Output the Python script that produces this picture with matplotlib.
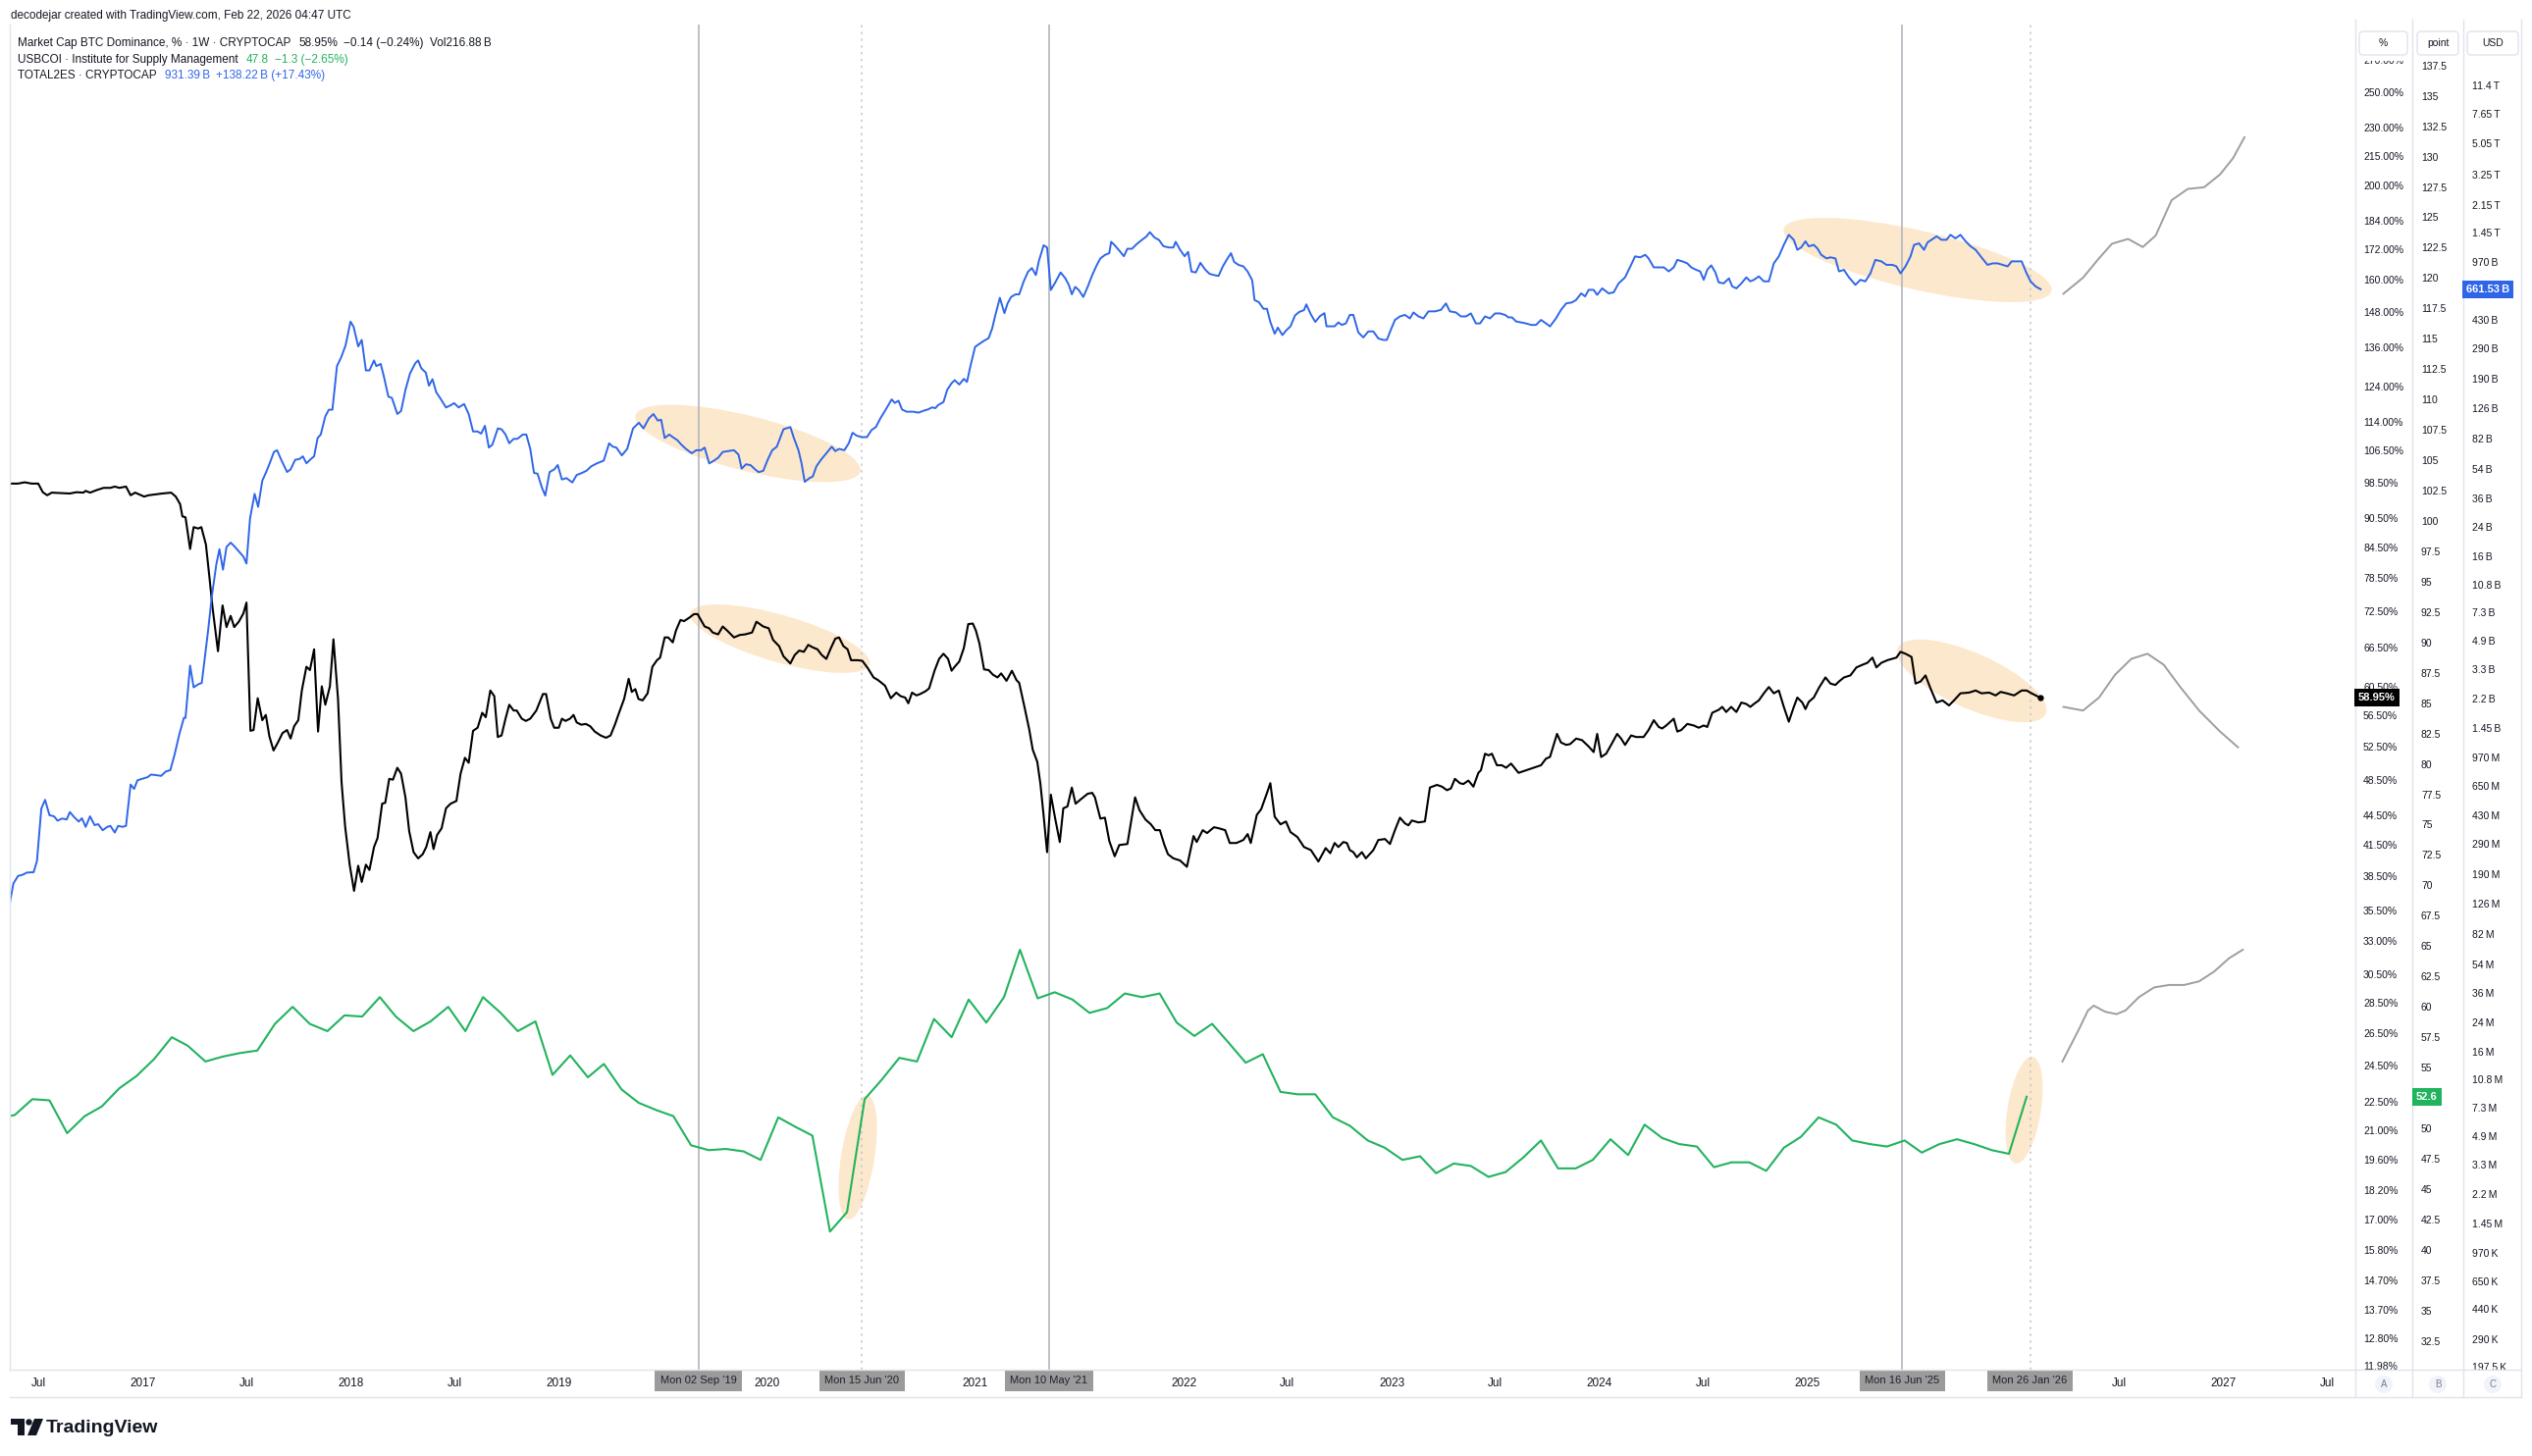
import numpy as np
import pandas as pd
import matplotlib
matplotlib.use("Agg")
import matplotlib.pyplot as plt
from matplotlib import transforms
from matplotlib.patches import Ellipse, FancyBboxPatch, Circle, Polygon, Rectangle
from matplotlib.ticker import FixedLocator, FixedFormatter, NullLocator

plt.rcParams['font.family'] = ['Liberation Sans', 'DejaVu Sans']

# -------------------------------
# data
# -------------------------------
# Market Cap BTC Dominance, weekly, % (decimal year)
btc_dom_t = [
    2016.359, 2016.398, 2016.430, 2016.463, 2016.495, 2016.517, 2016.538, 2016.560, 2016.603, 2016.647,
    2016.679, 2016.712, 2016.723, 2016.744, 2016.777, 2016.809, 2016.842, 2016.863, 2016.885, 2016.917,
    2016.939, 2016.961, 2017.004, 2017.026, 2017.058, 2017.091, 2017.134, 2017.156, 2017.177, 2017.188,
    2017.203, 2017.225, 2017.242, 2017.264, 2017.279, 2017.301, 2017.318, 2017.333, 2017.359, 2017.381,
    2017.400, 2017.420, 2017.437, 2017.459, 2017.481, 2017.496, 2017.515, 2017.530, 2017.550, 2017.572,
    2017.589, 2017.606, 2017.626, 2017.647, 2017.669, 2017.691, 2017.708, 2017.725, 2017.745, 2017.762,
    2017.784, 2017.801, 2017.821, 2017.840, 2017.858, 2017.875, 2017.897, 2017.914, 2017.936, 2017.953,
    2017.970, 2017.992, 2018.013, 2018.033, 2018.050, 2018.070, 2018.087, 2018.109, 2018.126, 2018.148,
    2018.163, 2018.182, 2018.200, 2018.221, 2018.239, 2018.260, 2018.278, 2018.299, 2018.321, 2018.343,
    2018.360, 2018.380, 2018.395, 2018.412, 2018.434, 2018.455, 2018.477, 2018.505, 2018.525, 2018.546,
    2018.564, 2018.585, 2018.607, 2018.629, 2018.646, 2018.668, 2018.687, 2018.704, 2018.722, 2018.741,
    2018.759, 2018.780, 2018.795, 2018.819, 2018.839, 2018.860, 2018.889, 2018.921, 2018.936, 2018.958,
    2018.975, 2018.997, 2019.012, 2019.029, 2019.051, 2019.068, 2019.083, 2019.105, 2019.127, 2019.148,
    2019.170, 2019.198, 2019.224, 2019.246, 2019.268, 2019.283, 2019.311, 2019.333, 2019.348, 2019.365,
    2019.380, 2019.400, 2019.424, 2019.447, 2019.469, 2019.484, 2019.506, 2019.523, 2019.545, 2019.560,
    2019.582, 2019.599, 2019.625, 2019.647, 2019.664,
    2019.672, 2019.698, 2019.720, 2019.737, 2019.763, 2019.785, 2019.807, 2019.839, 2019.867, 2019.893,
    2019.926, 2019.947, 2019.980, 2020.006, 2020.027, 2020.056, 2020.077, 2020.110, 2020.131, 2020.153,
    2020.175, 2020.196, 2020.218, 2020.240, 2020.261, 2020.283, 2020.305, 2020.326, 2020.344, 2020.365,
    2020.385, 2020.402, 2020.435, 2020.456, 2020.482, 2020.510, 2020.532, 2020.565, 2020.593, 2020.619,
    2020.640, 2020.662, 2020.677, 2020.695, 2020.716, 2020.734, 2020.760, 2020.777, 2020.803, 2020.825,
    2020.846, 2020.868, 2020.885, 2020.900, 2020.922, 2020.944, 2020.965, 2020.987, 2021.002, 2021.019,
    2021.041, 2021.063, 2021.084, 2021.106, 2021.123, 2021.149, 2021.175, 2021.197, 2021.210, 2021.236,
    2021.258, 2021.275, 2021.297, 2021.312, 2021.327, 2021.344, 2021.362, 2021.383, 2021.405, 2021.422,
    2021.442, 2021.463, 2021.481, 2021.507, 2021.539, 2021.561, 2021.574, 2021.600, 2021.622, 2021.643,
    2021.669, 2021.691, 2021.730, 2021.767, 2021.788, 2021.817, 2021.843, 2021.864, 2021.886, 2021.908,
    2021.925, 2021.951, 2021.983, 2022.016, 2022.048, 2022.063, 2022.092, 2022.113, 2022.146, 2022.168,
    2022.200, 2022.222, 2022.254, 2022.287, 2022.308, 2022.323, 2022.352, 2022.373, 2022.401, 2022.417,
    2022.438, 2022.466, 2022.492, 2022.514, 2022.547, 2022.579, 2022.612, 2022.648, 2022.683, 2022.705,
    2022.726,
    2022.744, 2022.768, 2022.785, 2022.799, 2022.816, 2022.833, 2022.857, 2022.876, 2022.912, 2022.936,
    2022.968, 2022.992, 2023.016, 2023.040, 2023.064, 2023.081, 2023.097, 2023.129, 2023.160, 2023.184,
    2023.218, 2023.242, 2023.266, 2023.285, 2023.304, 2023.328, 2023.345, 2023.369, 2023.393, 2023.417,
    2023.429, 2023.449, 2023.466, 2023.482, 2023.506, 2023.530, 2023.550, 2023.574, 2023.610, 2023.646,
    2023.682, 2023.718, 2023.742, 2023.761, 2023.795, 2023.814, 2023.839, 2023.858, 2023.887, 2023.915,
    2023.947, 2023.971, 2023.988, 2024.007, 2024.031, 2024.055, 2024.084, 2024.103, 2024.122, 2024.151,
    2024.175, 2024.211, 2024.235, 2024.260, 2024.284, 2024.300, 2024.320, 2024.356, 2024.373, 2024.392,
    2024.421, 2024.452, 2024.476, 2024.500, 2024.517, 2024.541, 2024.572, 2024.589, 2024.608, 2024.632,
    2024.657, 2024.681, 2024.705, 2024.724, 2024.741, 2024.765, 2024.789, 2024.813, 2024.837, 2024.861,
    2024.885, 2024.909, 2024.933, 2024.950, 2024.974, 2024.989, 2025.005, 2025.029, 2025.054, 2025.085,
    2025.109, 2025.133, 2025.150, 2025.174, 2025.205, 2025.234, 2025.263, 2025.287, 2025.311, 2025.330,
    2025.354, 2025.383, 2025.426, 2025.446, 2025.470, 2025.499, 2025.518, 2025.542, 2025.566, 2025.590,
    2025.619, 2025.648, 2025.679, 2025.703, 2025.734, 2025.775, 2025.807, 2025.835, 2025.872, 2025.903,
    2025.927, 2025.956, 2025.992, 2026.028, 2026.052, 2026.076, 2026.119,
]
btc_dom = [
    98.3, 98.3, 98.6, 98.3, 98.3, 96.3, 95.6, 96.2, 96.1, 96.0,
    96.3, 96.2, 96.6, 96.2, 96.8, 97.3, 97.3, 97.6, 97.3, 97.6,
    95.6, 96.2, 95.3, 95.6, 95.8, 96.0, 96.2, 95.3, 93.6, 90.9,
    90.7, 84.1, 88.6, 88.3, 88.6, 85.0, 78.6, 73.1, 65.9, 73.5,
    69.8, 71.7, 69.8, 70.7, 72.1, 74.0, 54.5, 54.6, 58.9, 55.9,
    56.6, 53.8, 52.0, 53.0, 54.2, 54.6, 53.5, 55.1, 55.9, 60.0,
    63.5, 63.0, 66.2, 54.4, 60.6, 58.0, 60.6, 67.8, 58.8, 48.2,
    43.4, 39.6, 37.2, 39.5, 38.0, 39.6, 39.1, 41.3, 42.2, 45.8,
    45.9, 48.6, 48.5, 49.9, 49.2, 46.5, 42.9, 40.8, 40.2, 40.6,
    41.3, 42.8, 41.1, 42.5, 43.2, 45.3, 45.8, 46.1, 49.2, 51.1,
    50.5, 54.5, 54.9, 56.9, 56.3, 60.0, 59.2, 53.7, 53.9, 56.1,
    58.0, 57.2, 57.2, 56.1, 55.8, 56.1, 57.2, 59.5, 59.5, 56.1,
    54.9, 54.9, 56.1, 55.8, 56.1, 56.6, 55.6, 55.3, 55.4, 55.1,
    54.4, 53.9, 53.6, 53.9, 55.4, 56.6, 58.8, 61.7, 59.8, 60.2,
    58.8, 58.6, 59.6, 63.5, 64.5, 64.9, 68.1, 68.1, 67.3, 69.2,
    71.0, 70.8, 71.4, 72.0, 72.0,
    71.5, 69.9, 69.6, 68.9, 68.6, 69.9, 69.2, 68.1, 68.5, 68.6,
    68.9, 70.7, 69.9, 69.6, 67.7, 66.7, 65.1, 64.0, 65.3, 66.0,
    65.8, 66.9, 66.5, 66.2, 65.3, 64.7, 66.4, 67.9, 68.1, 66.7,
    66.2, 64.5, 64.5, 64.4, 63.3, 61.9, 61.5, 60.7, 58.9, 59.7,
    59.2, 59.0, 58.2, 59.7, 59.3, 59.5, 59.9, 60.3, 62.9, 64.7,
    65.5, 64.7, 62.9, 63.5, 64.3, 66.4, 70.3, 70.4, 69.2, 67.1,
    63.1, 63.0, 62.3, 61.9, 62.5, 61.4, 62.9, 61.5, 61.1, 57.6,
    54.7, 52.1, 50.6, 48.0, 44.6, 40.8, 46.8, 44.2, 41.8, 45.3,
    45.5, 47.6, 45.8, 46.3, 46.9, 47.0, 46.5, 44.2, 44.3, 41.9,
    40.4, 41.5, 41.6, 46.5, 45.1, 44.1, 43.6, 43.0, 43.0, 41.5,
    40.6, 40.2, 40.0, 39.4, 42.4, 41.8, 43.0, 42.7, 43.3, 43.2,
    43.0, 41.7, 41.7, 42.0, 42.6, 41.7, 44.6, 45.2, 47.0, 48.1,
    44.4, 43.6, 43.9, 42.8, 42.3, 41.3, 41.0, 39.9, 41.2, 40.7,
    41.7,
    41.3, 41.8, 41.7, 41.0, 40.8, 40.3, 40.8, 40.2, 41.0, 42.0,
    42.1, 41.6, 43.0, 44.3, 43.7, 43.5, 44.0, 43.8, 43.9, 47.6,
    47.9, 47.7, 47.3, 47.5, 48.6, 48.1, 48.0, 48.4, 47.7, 49.3,
    49.6, 51.6, 51.4, 51.6, 50.2, 50.2, 49.9, 50.4, 49.3, 49.6,
    49.9, 50.2, 51.0, 51.2, 54.1, 53.0, 52.7, 52.8, 53.5, 53.3,
    52.5, 51.8, 54.1, 51.2, 51.6, 52.7, 54.1, 53.5, 52.7, 53.9,
    53.7, 53.7, 54.6, 55.9, 55.0, 54.8, 55.2, 56.1, 54.4, 54.6,
    55.4, 55.2, 54.9, 55.2, 55.0, 56.9, 57.3, 57.7, 57.0, 57.7,
    57.0, 58.3, 58.1, 57.7, 58.1, 58.6, 59.6, 60.5, 59.6, 60.0,
    57.7, 55.7, 57.7, 59.0, 58.3, 57.4, 58.4, 59.0, 60.4, 61.9,
    61.0, 60.8, 61.3, 61.9, 62.2, 63.4, 63.8, 64.1, 64.9, 63.4,
    64.1, 64.5, 64.9, 65.8, 65.5, 65.0, 61.0, 61.3, 62.2, 60.3,
    58.3, 58.6, 57.9, 58.6, 59.6, 59.7, 60.0, 59.6, 59.7, 59.3,
    59.8, 59.6, 59.3, 60.0, 60.0, 59.6, 58.95,
]

# TOTAL2ES market cap, weekly, billions of USD
total2es_t = [
    2016.359, 2016.376, 2016.398, 2016.419, 2016.441, 2016.473, 2016.489, 2016.510, 2016.528, 2016.549,
    2016.571, 2016.588, 2016.610, 2016.632, 2016.647, 2016.668, 2016.690, 2016.705, 2016.723, 2016.744,
    2016.766, 2016.783, 2016.805, 2016.827, 2016.842, 2016.863, 2016.879, 2016.900, 2016.917, 2016.939,
    2016.956, 2016.972, 2016.993, 2017.021, 2017.037, 2017.058, 2017.086, 2017.108, 2017.130, 2017.151,
    2017.173, 2017.195, 2017.203, 2017.225, 2017.242, 2017.264, 2017.281, 2017.297, 2017.312, 2017.329,
    2017.351, 2017.366, 2017.383, 2017.400, 2017.420, 2017.437, 2017.459, 2017.481, 2017.496, 2017.513,
    2017.535, 2017.552, 2017.572, 2017.589, 2017.606, 2017.628, 2017.643, 2017.665, 2017.691, 2017.708,
    2017.730, 2017.751, 2017.767, 2017.784, 2017.806, 2017.821, 2017.838, 2017.853, 2017.875, 2017.892,
    2017.909, 2017.931, 2017.951, 2017.972, 2017.996, 2018.011, 2018.033, 2018.050, 2018.070, 2018.087,
    2018.109, 2018.120, 2018.141, 2018.156, 2018.178, 2018.195, 2018.221, 2018.239, 2018.260, 2018.282,
    2018.308, 2018.321, 2018.336, 2018.358, 2018.373, 2018.390, 2018.408, 2018.429, 2018.455, 2018.477,
    2018.494, 2018.516, 2018.542, 2018.564, 2018.585, 2018.607, 2018.624, 2018.642, 2018.661, 2018.678,
    2018.704, 2018.722, 2018.741, 2018.759, 2018.780, 2018.798, 2018.824, 2018.841, 2018.860, 2018.878,
    2018.895, 2018.917, 2018.932, 2018.953, 2018.975, 2018.992, 2019.012, 2019.034, 2019.062, 2019.083,
    2019.109, 2019.131, 2019.153, 2019.181, 2019.213, 2019.239, 2019.257, 2019.274, 2019.300, 2019.326,
    2019.354, 2019.382, 2019.404, 2019.430, 2019.452, 2019.473, 2019.489, 2019.506, 2019.528, 2019.545,
    2019.567, 2019.586, 2019.608, 2019.636, 2019.658,
    2019.681, 2019.698, 2019.720, 2019.742, 2019.763, 2019.785, 2019.811, 2019.839, 2019.861, 2019.876,
    2019.897, 2019.919, 2019.941, 2019.958, 2019.980, 2020.001, 2020.023, 2020.045, 2020.077, 2020.110,
    2020.127, 2020.149, 2020.164, 2020.179, 2020.201, 2020.218, 2020.235, 2020.257, 2020.283, 2020.309,
    2020.326, 2020.344, 2020.370, 2020.391, 2020.409, 2020.430, 2020.456, 2020.478, 2020.500, 2020.521,
    2020.543, 2020.565, 2020.597, 2020.612, 2020.630, 2020.647, 2020.669, 2020.699, 2020.727, 2020.749,
    2020.770, 2020.792, 2020.807, 2020.820, 2020.846, 2020.864, 2020.885, 2020.900, 2020.922, 2020.944,
    2020.959, 2020.976, 2020.998, 2021.019, 2021.041, 2021.063, 2021.080, 2021.095, 2021.117, 2021.139,
    2021.154, 2021.171, 2021.193, 2021.210, 2021.232, 2021.253, 2021.271, 2021.290, 2021.305, 2021.318,
    2021.327, 2021.344, 2021.362, 2021.383, 2021.409, 2021.431, 2021.448, 2021.463, 2021.479, 2021.496,
    2021.518, 2021.539, 2021.561, 2021.583, 2021.600, 2021.622, 2021.643, 2021.652, 2021.669, 2021.691,
    2021.713, 2021.730, 2021.752, 2021.773, 2021.799, 2021.821, 2021.838, 2021.860, 2021.882, 2021.903,
    2021.929, 2021.951, 2021.962, 2021.983, 2022.005, 2022.022, 2022.038, 2022.059, 2022.081, 2022.103,
    2022.124, 2022.146, 2022.168, 2022.189, 2022.211, 2022.228, 2022.243, 2022.265, 2022.287, 2022.308,
    2022.330, 2022.341, 2022.362, 2022.384, 2022.401, 2022.417, 2022.438, 2022.453, 2022.475, 2022.492,
    2022.514, 2022.536, 2022.557, 2022.579, 2022.590, 2022.612, 2022.633, 2022.655, 2022.677, 2022.687,
    2022.726,
    2022.744, 2022.761, 2022.780, 2022.799, 2022.816, 2022.840, 2022.864, 2022.888, 2022.912, 2022.936,
    2022.960, 2022.977, 2022.996, 2023.016, 2023.040, 2023.064, 2023.088, 2023.105, 2023.129, 2023.153,
    2023.177, 2023.208, 2023.237, 2023.261, 2023.280, 2023.309, 2023.333, 2023.357, 2023.381, 2023.405,
    2023.425, 2023.449, 2023.473, 2023.497, 2023.521, 2023.545, 2023.562, 2023.579, 2023.598, 2023.622,
    2023.646, 2023.670, 2023.694, 2023.718, 2023.742, 2023.761, 2023.790, 2023.814, 2023.839, 2023.867,
    2023.887, 2023.911, 2023.930, 2023.947, 2023.971, 2023.988, 2024.012, 2024.043, 2024.067, 2024.091,
    2024.122, 2024.151, 2024.170, 2024.195, 2024.219, 2024.235, 2024.260, 2024.284, 2024.308, 2024.332,
    2024.356, 2024.373, 2024.397, 2024.421, 2024.440, 2024.464, 2024.483, 2024.500, 2024.517, 2024.536,
    2024.556, 2024.572, 2024.596, 2024.621, 2024.637, 2024.657, 2024.681, 2024.705, 2024.724, 2024.741,
    2024.765, 2024.789, 2024.813, 2024.837, 2024.861, 2024.885, 2024.909, 2024.933, 2024.950, 2024.969,
    2024.989, 2025.005, 2025.029, 2025.046, 2025.065, 2025.090, 2025.109, 2025.133, 2025.150, 2025.174,
    2025.198, 2025.229, 2025.253, 2025.277, 2025.301, 2025.325, 2025.354, 2025.378, 2025.407, 2025.426,
    2025.446, 2025.470, 2025.494, 2025.511, 2025.535, 2025.559, 2025.576, 2025.595, 2025.619, 2025.643,
    2025.667, 2025.686, 2025.710, 2025.734, 2025.759, 2025.783, 2025.807, 2025.835, 2025.864, 2025.889,
    2025.913, 2025.937, 2025.961, 2025.980, 2026.004, 2026.028, 2026.052, 2026.071, 2026.095, 2026.119,
]
total2es_bn = [
    0.128, 0.167, 0.185, 0.188, 0.194, 0.195, 0.228, 0.474, 0.535, 0.432,
    0.425, 0.400, 0.412, 0.407, 0.451, 0.420, 0.395, 0.414, 0.367, 0.425,
    0.376, 0.381, 0.350, 0.367, 0.372, 0.339, 0.372, 0.367, 0.372, 0.662,
    0.623, 0.703, 0.716, 0.734, 0.761, 0.756, 0.747, 0.794, 0.809, 1.012,
    1.331, 1.677, 1.677, 3.478, 2.567, 2.679, 2.729, 3.977, 5.729, 9.036,
    14.25, 17.63, 13.25, 18.18, 19.32, 18.40, 17.10, 15.91, 14.43, 26.98,
    38.15, 31.79, 45.80, 51.09, 57.69, 68.39, 70.06, 60.56, 51.71, 53.63,
    61.31, 62.06, 64.36, 58.40, 62.06, 64.36, 83.10, 87.24, 112.6, 123.3,
    123.3, 226.5, 255.8, 301.5, 421.1, 391.4, 297.9, 326.3, 213.2, 213.2,
    245.1, 226.5, 233.5, 197.0, 148.0, 145.3, 116.1, 121.1, 162.2, 204.3,
    236.4, 245.1, 219.8, 206.8, 172.3, 188.7, 157.3, 143.6, 127.2, 131.1,
    135.1, 127.2, 133.5, 116.1, 91.0, 91.0, 88.3, 98.5, 72.7, 75.8,
    95.0, 93.8, 87.2, 77.2, 82.1, 82.1, 87.2, 87.2, 71.4, 51.1,
    50.5, 41.3, 37.2, 51.7, 53.6, 57.0, 46.6, 47.5, 44.7, 49.6,
    51.1, 52.7, 56.0, 58.4, 60.6, 77.2, 73.6, 72.7, 65.2, 71.4,
    95.0, 102.8, 95.0, 109.2, 116.1, 105.9, 107.2, 83.1, 87.2, 84.1,
    80.6, 75.8, 71.4, 67.2, 70.1,
    70.1, 72.7, 58.3, 60.5, 63.1, 68.4, 69.2, 70.1, 65.9, 54.2,
    57.6, 56.9, 53.6, 51.6, 52.6, 61.3, 70.1, 73.6, 93.9, 96.8,
    83.1, 70.1, 58.3, 45.1, 47.4, 48.6, 55.9, 61.3, 67.1, 73.6,
    69.2, 71.4, 70.1, 77.3, 89.4, 85.7, 84.1, 84.1, 92.8, 96.8,
    109.4, 121.4, 142.3, 135.5, 139.7, 123.6, 119.9, 119.9, 118.4, 121.4,
    123.6, 127.4, 125.9, 131.4, 137.2, 162.7, 178.3, 186.2, 175.1, 189.6,
    181.6, 227.7, 296.0, 309.0, 322.5, 334.5, 382.4, 459.6, 586.7, 473.8,
    542.1, 593.9, 616.1, 616.1, 739.8, 846.2, 888.6, 805.9, 985.8, 1114,
    1221, 1184, 654.8, 726.3, 835.9, 772.3, 704.6, 616.1, 683.5, 654.8,
    593.9, 683.5, 805.9, 927.3, 1016, 1067, 1094, 1282, 1221, 1134,
    1048, 1163, 1163, 1236, 1314, 1379, 1466, 1362, 1314, 1206,
    1184, 1184, 1282, 1148, 1048, 1114, 846.2, 835.9, 956, 872.5,
    820.9, 805.9, 796.2, 910.5, 1016, 1094, 967.8, 927.3, 910.5, 846.2,
    749.0, 569.0, 551.9, 503.5, 503.5, 419.4, 355.6, 387.3, 349.2, 371.1,
    394.5, 459.6, 482.6, 494.5, 535.5, 465.2, 419.4, 453.9, 473.8, 394.5,
    394.5,
    416.5, 402.2, 410.7, 462.4, 462.4, 362.2, 337.8, 367.3, 367.3, 333.1,
    326.2, 326.2, 375.1, 431.2, 452.8, 462.4, 440.4, 478.7, 452.8, 440.4,
    485.8, 485.8, 496.0, 542.9, 485.8, 478.7, 452.8, 452.8, 472.1, 410.7,
    410.7, 452.8, 440.4, 472.1, 472.1, 462.4, 446.5, 446.5, 422.3, 416.5,
    410.7, 402.2, 402.2, 431.2, 410.7, 393.9, 440.4, 496.0, 542.9, 550.5,
    570.1, 624.3, 598.8, 655.7, 655.7, 611.4, 669.6, 624.3, 633.0, 717.8,
    780.5, 929.2, 1046, 1032, 1069, 1017, 897.4, 897.4, 897.4, 848.7,
    897.4, 996.3, 975.7, 948.9, 897.4, 866.7, 848.7, 753.9, 866.7, 922.8,
    837.0, 727.8, 717.8, 769.7, 688.3, 669.6, 717.8, 780.5, 738.3, 753.9,
    791.5, 738.3, 738.3, 948.9, 1046, 1228, 1413, 1318, 1146, 1187,
    1290, 1203, 1228, 1170, 1069, 1017, 1032, 1017, 848.7, 866.7,
    780.5, 703.0, 753.9, 738.3, 825.3, 996.3, 975.7, 929.2, 929.2, 910.0,
    825.3, 910.0, 1046, 1228, 1254, 1146, 1272, 1318, 1383, 1318,
    1318, 1413, 1345, 1413, 1290, 1203, 1146, 1032, 929.2, 948.9,
    948.9, 929.2, 910.0, 975.7, 975.7, 975.7, 825.3, 738.3, 688.3, 661.53,
]

# USBCOI (ISM manufacturing), monthly from Apr 2016
ism_first_month = "2016-04-01"
ism_pmi = [
    50.8, 51.1, 52.4, 52.3, 49.6, 51.0, 51.8, 53.3, 54.3,
    55.7, 57.5, 56.8, 55.5, 55.9, 56.2, 56.4, 58.6, 60.0, 58.6, 58.0, 59.3,
    59.2, 60.8, 59.2, 58.0, 58.8, 60.0, 58.0, 60.8, 59.5, 58.0, 58.8, 54.4,
    56.0, 54.2, 55.3, 53.2, 52.1, 51.5, 51.0, 48.6, 48.2, 48.3, 48.1, 47.4,
    50.9, 50.1, 49.4, 41.5, 43.1, 52.4, 54.0, 55.8, 55.5, 59.0, 57.5, 60.6,
    58.7, 60.8, 64.7, 60.7, 61.2, 60.6, 59.5, 59.9, 61.1, 60.8, 61.1, 58.7,
    57.6, 58.6, 57.1, 55.4, 56.1, 53.0, 52.8, 52.8, 50.9, 50.2, 49.0, 48.4,
    47.4, 47.7, 46.3, 47.1, 46.9, 46.0, 46.4, 47.6, 49.0, 46.7, 46.7, 47.4,
    49.1, 47.8, 50.3, 49.2, 48.7, 48.5, 46.8, 47.2, 47.2, 46.5, 48.4, 49.3,
    50.9, 50.3, 49.0, 48.7, 48.5, 49.0, 48.0, 48.7, 49.1, 48.7, 48.2, 47.9,
    52.6,
]

# hand-drawn projection paths (gray)
proj_total2_t = [2026.229, 2026.323, 2026.400, 2026.462, 2026.540, 2026.610, 2026.672,
                 2026.749, 2026.827, 2026.905, 2026.982, 2027.044, 2027.099]
proj_total2_bn = [621, 777, 1018, 1247, 1334, 1191, 1396, 2291, 2680, 2742, 3281, 4111, 5509]
proj_dom_t = [2026.229, 2026.323, 2026.400, 2026.477, 2026.555, 2026.633, 2026.711,
              2026.788, 2026.881, 2026.982, 2027.068]
proj_dom = [57.7, 57.2, 59.0, 62.3, 64.7, 65.5, 63.8, 60.6, 57.2, 54.4, 52.4]
proj_ism_t = [2026.224, 2026.302, 2026.347, 2026.375, 2026.429, 2026.484, 2026.527, 2026.592,
              2026.665, 2026.736, 2026.809, 2026.881, 2026.953, 2027.025, 2027.091]
proj_ism = [55.5, 58.1, 59.7, 60.1, 59.6, 59.4, 59.7, 60.8, 61.6, 61.8, 61.8, 62.1, 62.9, 64.0, 64.7]

# vertical markers
marker_dates = ["2019-09-02", "2020-06-15", "2021-05-10", "2025-06-16", "2026-01-26"]
marker_labels = ["Mon 02 Sep '19", "Mon 15 Jun '20", "Mon 10 May '21", "Mon 16 Jun '25", "Mon 26 Jan '26"]
marker_dotted = [False, True, False, False, True]

# x axis labels
xtick_dates = ["2016-07-01", "2017-01-01", "2017-07-01", "2018-01-01", "2018-07-01", "2019-01-01",
               "2020-01-01", "2021-01-01", "2022-01-01", "2022-07-01", "2023-01-01", "2023-07-01",
               "2024-01-01", "2024-07-01", "2025-01-01", "2026-07-01", "2027-01-01", "2027-07-01"]
xtick_labels = ["Jul", "2017", "Jul", "2018", "Jul", "2019", "2020", "2021", "2022", "Jul", "2023",
                "Jul", "2024", "Jul", "2025", "Jul", "2027", "Jul"]

# price scales (labels hidden behind the last-value tags are left out)
a_ticks = [270, 250, 230, 215, 200, 184, 172, 160, 148, 136, 124, 114, 106.5, 98.5, 90.5, 84.5,
           78.5, 72.5, 66.5, 60.5, 56.5, 52.5, 48.5, 44.5, 41.5, 38.5, 35.5, 33, 30.5, 28.5, 26.5,
           24.5, 22.5, 21, 19.6, 18.2, 17, 15.8, 14.7, 13.7, 12.8, 11.98]
b_ticks = [v for v in np.arange(32.5, 138.0, 2.5) if v != 52.5]
c_ticks_bn = [11400, 7650, 5050, 3250, 2150, 1450, 970, 430, 290, 190, 126, 82, 54, 36, 24,
              16, 10.8, 7.3, 4.9, 3.3, 2.2, 1.45, 0.97, 0.65, 0.43, 0.29, 0.19, 0.126, 0.082,
              0.054, 0.036, 0.024, 0.016, 0.0108, 0.0073, 0.0049, 0.0033, 0.0022, 0.00145,
              0.00097, 0.00065, 0.00044, 0.00029, 0.0001975]
c_tick_labels = ["11.4 T", "7.65 T", "5.05 T", "3.25 T", "2.15 T", "1.45 T", "970 B",
                 "430 B", "290 B", "190 B", "126 B", "82 B", "54 B", "36 B", "24 B", "16 B",
                 "10.8 B", "7.3 B", "4.9 B", "3.3 B", "2.2 B", "1.45 B", "970 M", "650 M",
                 "430 M", "290 M", "190 M", "126 M", "82 M", "54 M", "36 M", "24 M", "16 M",
                 "10.8 M", "7.3 M", "4.9 M", "3.3 M", "2.2 M", "1.45 M", "970 K", "650 K",
                 "440 K", "290 K", "197.5 K"]


def dec_year(d):
    d = pd.Timestamp(d)
    y0 = pd.Timestamp(year=d.year, month=1, day=1)
    y1 = pd.Timestamp(year=d.year + 1, month=1, day=1)
    return d.year + (d - y0) / (y1 - y0)


ism_t = [dec_year(d + pd.Timedelta(days=19))
         for d in pd.date_range(ism_first_month, periods=len(ism_pmi), freq="MS")]

# -------------------------------
# figure
# -------------------------------
DARK = '#131722'
BLUE = '#2f66e8'
GREEN = '#22b35e'
GRID = '#e0e3eb'
PEACH = '#fce8cc'
PROJ = '#9e9e9e'

W, H = 2580, 1484
fig = plt.figure(figsize=(W / 100, H / 100), dpi=100, facecolor='white')

PL, PR, PT, PB = 10, 2400, 25, 1396
rect = [PL / W, 1 - PB / H, (PR - PL) / W, (PB - PT) / H]

ax_a = fig.add_axes(rect)                 # BTC dominance (A, %)
ax_b = fig.add_axes(rect, sharex=ax_a)    # ISM (B, point)
ax_c = fig.add_axes(rect, sharex=ax_a)    # TOTAL2ES (C, USD)
for ax in (ax_b, ax_c):
    ax.patch.set_visible(False)
for ax in (ax_a, ax_b, ax_c):
    for s in ax.spines.values():
        s.set_visible(False)

ax_a.set_yscale('log')
ax_c.set_yscale('log')
ax_a.set_ylim(11.87, 293.9)
ax_b.set_ylim(30.13, 140.87)
ax_c.set_ylim(1.894e-4, 2.652e4)
ax_a.set_xlim(2016.3585, 2027.632)

scales = [(ax_a, a_ticks, ["%.2f%%" % v for v in a_ticks], 5.8),
          (ax_b, b_ticks, ["%g" % v for v in b_ticks], 48.2),
          (ax_c, c_ticks_bn, [s.replace(" ", "\u2009") for s in c_tick_labels], 85.7)]
for ax, ticks, labels, pad in scales:
    ax.yaxis.tick_right()
    ax.yaxis.set_major_locator(FixedLocator(ticks))
    ax.yaxis.set_major_formatter(FixedFormatter(labels))
    ax.yaxis.set_minor_locator(NullLocator())
    ax.tick_params(axis='y', which='both', length=0, pad=pad, labelsize=7.5, labelcolor=DARK)

ax_a.set_xticks([dec_year(d) for d in xtick_dates])
ax_a.set_xticklabels(xtick_labels)
ax_a.tick_params(axis='x', length=0, pad=6, labelsize=8.5, labelcolor=DARK)
for ax in (ax_b, ax_c):
    ax.tick_params(axis='x', which='both', bottom=False, labelbottom=False)

# vertical markers + date boxes on the time axis
xblend = transforms.blended_transform_factory(ax_a.transData, fig.transFigure)
for d, lab, dotted in zip(marker_dates, marker_labels, marker_dotted):
    x = dec_year(d)
    if dotted:
        ax_a.axvline(x, color='#c3c5cb', lw=1.1, ls=(0, (1.5, 3)), zorder=1)
    else:
        ax_a.axvline(x, color='#b2b5be', lw=1.2, zorder=1)
    ax_a.text(x, 1 - 1407 / H, lab, transform=xblend, ha='center', va='center', fontsize=8,
              color='#1e222d', clip_on=False, zorder=6,
              bbox=dict(boxstyle='square,pad=0.5', fc='#9b9b9b', ec='none'))

# series
ax_a.plot(btc_dom_t, btc_dom, color='black', lw=1.5, zorder=3)
ax_a.plot(btc_dom_t[-1:], btc_dom[-1:], 'o', color='black', ms=3.5, zorder=4)
ax_b.plot(ism_t, ism_pmi, color=GREEN, lw=1.5, zorder=3)
ax_c.plot(total2es_t, total2es_bn, color=BLUE, lw=1.4, zorder=3)

ax_c.plot(proj_total2_t, proj_total2_bn, color=PROJ, lw=1.4, zorder=3)
ax_a.plot(proj_dom_t, proj_dom, color=PROJ, lw=1.4, zorder=3)
ax_b.plot(proj_ism_t, proj_ism, color=PROJ, lw=1.4, zorder=3)

# highlight ellipses: (axes, date, value, width px, height px, angle)
highlights = [
    (ax_c, 2019.906, 77.0, 236, 56, -14),
    (ax_a, 2020.060, 67.9, 190, 48, -16),
    (ax_b, 2020.434, 47.6, 34, 128, -9),
    (ax_c, 2025.528, 994, 280, 60, -13),
    (ax_a, 2025.788, 61.4, 165, 56, -24),
    (ax_b, 2026.040, 51.5, 34, 110, -9),
]
for ax, t, v, w, h, ang in highlights:
    cx, cy = ax.transData.transform((t, v))
    ax_a.add_patch(Ellipse((cx, cy), w, h, angle=ang, transform=transforms.IdentityTransform(),
                           fc=PEACH, ec='none', zorder=0.5))

# -------------------------------
# chrome: borders, scale headers, badges, logo
# -------------------------------
ov = fig.add_axes([0, 0, 1, 1], zorder=5)
ov.set_xlim(0, W)
ov.set_ylim(H, 0)
ov.axis('off')

ov.add_patch(Rectangle((PR + 1, 0), 2569 - PR - 1, 62, fc='white', ec='none'))
ov.add_patch(Rectangle((PR + 1, PB), 2569 - PR - 1, 28, fc='white', ec='none'))

ov.plot([PL, PL], [PT, PB], color=GRID, lw=1)
for x in (PR, 2458, 2510, 2569):
    ov.plot([x, x], [20, 1424], color=GRID, lw=1)
ov.plot([PL, 2569], [PB, PB], color=GRID, lw=1)
ov.plot([PL, 2569], [1424, 1424], color=GRID, lw=1)

for x0, w, lab in ((2404, 49, '%'), (2463, 42, 'point'), (2514, 52, 'USD')):
    ov.add_patch(FancyBboxPatch((x0, 32), w, 24, boxstyle='round,pad=0,rounding_size=4',
                                fc='white', ec=GRID, lw=1))
    ov.text(x0 + w / 2, 44, lab, ha='center', va='center', fontsize=7.5, color=DARK)

for x, lab in ((2429, 'A'), (2484, 'B'), (2540, 'C')):
    ov.add_patch(Circle((x, 1411), 9, fc='#f0f3fa', ec='none'))
    ov.text(x, 1411, lab, ha='center', va='center', fontsize=7, color='#787b86')

# TradingView logo
ov.add_patch(Polygon([(11, 1446), (25, 1446), (25, 1463), (18, 1463), (18, 1452), (11, 1452)],
                     closed=True, fc=DARK, ec='none'))
ov.add_patch(Circle((29.5, 1449.5), 3.2, fc=DARK, ec='none'))
ov.add_patch(Polygon([(35, 1446), (44, 1446), (37, 1463), (28, 1463)], closed=True, fc=DARK, ec='none'))
ov.text(47, 1455, 'TradingView', ha='left', va='center', fontsize=14, fontweight='bold', color=DARK)

# last-value labels on the price scales
for ax, x0, txt, col, val in ((ax_a, 2403, '58.95%', 'black', btc_dom[-1]),
                              (ax_b, 2462, '52.6', GREEN, ism_pmi[-1]),
                              (ax_c, 2513, '661.53\u2009B', BLUE, total2es_bn[-1])):
    tr = transforms.blended_transform_factory(fig.transFigure, ax.transData)
    fig.text(x0 / W, val, txt, transform=tr, ha='left', va='center', fontsize=8,
             fontweight='bold', color='white', zorder=10,
             bbox=dict(boxstyle='square,pad=0.35', fc=col, ec='none'))

# header and legend
fig.text(11 / W, 1 - 19 / H, 'decodejar created with TradingView.com, Feb 22, 2026 04:47 UTC',
         fontsize=8.5, color=DARK, va='baseline', zorder=10)

legend_rows = [
    (47, [("Market Cap BTC Dominance, % \u00b7 1W \u00b7 CRYPTOCAP", DARK), ("58.95%", DARK),
          ("\u22120.14 (\u22120.24%)", DARK), ("Vol216.88\u2009B", DARK)]),
    (64, [("USBCOI \u00b7 Institute for Supply Management", DARK), ("47.8", GREEN),
          ("\u22121.3 (\u22122.65%)", GREEN)]),
    (80, [("TOTAL2ES \u00b7 CRYPTOCAP", DARK), ("931.39\u2009B", BLUE),
          ("+138.22\u2009B (+17.43%)", BLUE)]),
]
renderer = fig.canvas.get_renderer()
for y, parts in legend_rows:
    x = 18
    for k, (s, col) in enumerate(parts):
        t = fig.text(x / W, 1 - y / H, s, fontsize=8.5, color=col, va='baseline', zorder=10)
        bb = t.get_window_extent(renderer)
        x = bb.x1 + (8 if k == 0 else 6)

fig.savefig('out.png', dpi=100, facecolor='white')
